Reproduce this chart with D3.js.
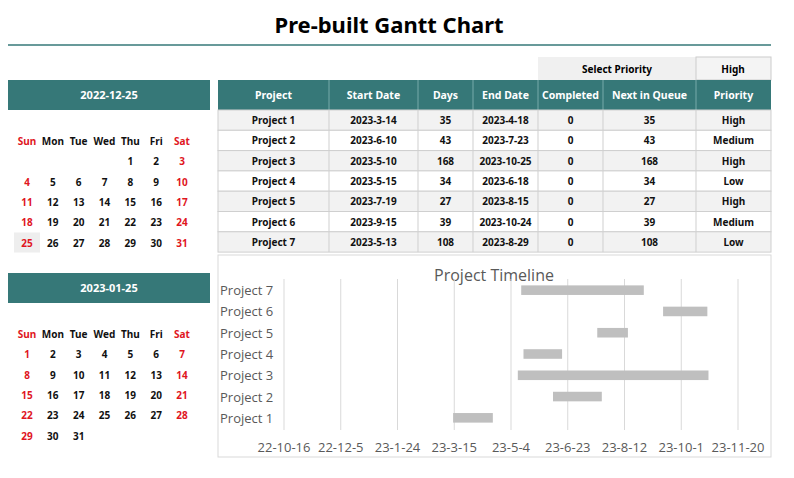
<!DOCTYPE html>
<html><head><meta charset="utf-8">
<script src="https://cdn.jsdelivr.net/npm/d3@7"></script>
<style>
body{margin:0;background:#fff;}
svg{font-family:"Noto Sans",sans-serif;}
</style></head><body>
<svg id="c" width="794" height="478"></svg>
<script>
const projects = ['Project 1','Project 2','Project 3','Project 4','Project 5','Project 6','Project 7'];
const startDates = ['2023-3-14','2023-6-10','2023-5-10','2023-5-15','2023-7-19','2023-9-15','2023-5-13'];
const days = [35,43,168,34,27,39,108];
const endDates = ['2023-4-18','2023-7-23','2023-10-25','2023-6-18','2023-8-15','2023-10-24','2023-8-29'];
const completed = [0,0,0,0,0,0,0];
const nextInQueue = [35,43,168,34,27,39,108];
const priorities = ['High','Medium','High','Low','High','Medium','Low'];
const headers = ['Project','Start Date','Days','End Date','Completed','Next in Queue','Priority'];
const colEdges = [218,329,418,473,538,603,696,771];
const weekdays = ['Sun','Mon','Tue','Wed','Thu','Fri','Sat'];
const tickLabels = ['22-10-16','22-12-5','23-1-24','23-3-15','23-5-4','23-6-23','23-8-12','23-10-1','23-11-20'];

const teal = '#367878';
const svg = d3.select('#c');
const parse = d3.timeParse('%Y-%m-%d');

svg.append('text').attr('x', 389).attr('y', 33).attr('text-anchor', 'middle')
  .attr('font-size', 22).attr('font-weight', 'bold').text('Pre-built Gantt Chart');
svg.append('line').attr('x1', 8).attr('x2', 771).attr('y1', 45).attr('y2', 45)
  .attr('stroke', teal).attr('stroke-width', 1.5);

// calendars
function calendar(y0, label, year, month, hi) {
  svg.append('rect').attr('x', 8).attr('y', y0).attr('width', 202).attr('height', 30).attr('fill', teal);
  svg.append('text').attr('x', 109).attr('y', y0 + 19).attr('text-anchor', 'middle')
    .attr('fill', '#fff').attr('font-size', 11).attr('font-weight', 'bold').text(label);
  const cx = d3.scalePoint().domain(d3.range(7)).range([27, 182]);
  const wy = y0 + 65;
  weekdays.forEach((w, i) => svg.append('text').attr('x', cx(i)).attr('y', wy).attr('text-anchor', 'middle')
    .attr('font-size', 10).attr('font-weight', 'bold').attr('fill', i === 0 || i === 6 ? '#e0161e' : '#111').text(w));
  const first = new Date(year, month, 1);
  const n = new Date(year, month + 1, 0).getDate();
  const off = first.getDay();
  for (let d = 1; d <= n; d += 1) {
    const idx = d - 1 + off, c = idx % 7, r = Math.floor(idx / 7);
    const y = wy + 20.3 + r * 20.3;
    if (d === hi) svg.append('rect').attr('x', cx(c) - 13).attr('y', y - 14).attr('width', 26).attr('height', 20).attr('fill', '#eeeeee');
    svg.append('text').attr('x', cx(c)).attr('y', y).attr('text-anchor', 'middle')
      .attr('font-size', 10).attr('font-weight', 'bold').attr('fill', c === 0 || c === 6 ? '#e0161e' : '#111').text(d);
  }
}
calendar(80, '2022-12-25', 2022, 11, 25);
calendar(273, '2023-01-25', 2023, 0, null);

// table
svg.append('rect').attr('x', 538).attr('y', 57).attr('width', 158).attr('height', 23).attr('fill', '#f0f0f0');
svg.append('text').attr('x', 617).attr('y', 73).attr('text-anchor', 'middle').attr('font-size', 10).attr('font-weight', 'bold').text('Select Priority');
svg.append('rect').attr('x', 696).attr('y', 57).attr('width', 75).attr('height', 23).attr('fill', '#f4f4f4').attr('stroke', '#ccc');
svg.append('text').attr('x', 733).attr('y', 73).attr('text-anchor', 'middle').attr('font-size', 10).attr('font-weight', 'bold').text('High');
svg.append('rect').attr('x', 218).attr('y', 80).attr('width', 553).attr('height', 30).attr('fill', teal);
headers.forEach((h, i) => {
  if (i > 0) svg.append('line').attr('x1', colEdges[i]).attr('x2', colEdges[i]).attr('y1', 80).attr('y2', 110).attr('stroke', '#7aa').attr('stroke-width', 1);
  svg.append('text').attr('x', (colEdges[i] + colEdges[i + 1]) / 2).attr('y', 99).attr('text-anchor', 'middle')
    .attr('fill', '#fff').attr('font-size', 10.5).attr('font-weight', 'bold').text(h);
});
const rowH = 20.3;
projects.forEach((p, r) => {
  const y = 110 + r * rowH;
  const vals = [p, startDates[r], days[r], endDates[r], completed[r], nextInQueue[r], priorities[r]];
  svg.append('rect').attr('x', 218).attr('y', y).attr('width', 553).attr('height', rowH)
    .attr('fill', r % 2 === 0 ? '#f2f2f2' : '#fff').attr('stroke', '#cfcfcf');
  vals.forEach((v, i) => {
    if (i > 0) svg.append('line').attr('x1', colEdges[i]).attr('x2', colEdges[i]).attr('y1', y).attr('y2', y + rowH).attr('stroke', '#cfcfcf');
    svg.append('text').attr('x', (colEdges[i] + colEdges[i + 1]) / 2).attr('y', y + 14).attr('text-anchor', 'middle')
      .attr('font-size', 10).attr('font-weight', 'bold').attr('fill', '#111').text(v);
  });
});

// gantt
svg.append('rect').attr('x', 218).attr('y', 255).attr('width', 553).attr('height', 202).attr('fill', '#fff').attr('stroke', '#d9d9d9');
svg.append('text').attr('x', 494).attr('y', 281).attr('text-anchor', 'middle').attr('font-size', 16)
  .attr('fill', '#595959').attr('font-family', 'Open Sans').text('Project Timeline');
const tickDates = tickLabels.map((t) => parse('20' + t));
const x = d3.scaleTime().domain([tickDates[0], tickDates[tickDates.length - 1]]).range([284, 738]);
const y = d3.scaleBand().domain(projects.slice().reverse()).range([279, 429]).paddingInner(0.55).paddingOuter(0.3);
const g = svg.append('g');
tickDates.forEach((d, i) => {
  g.append('line').attr('x1', x(d)).attr('x2', x(d)).attr('y1', 279).attr('y2', 430).attr('stroke', '#d9d9d9');
  g.append('text').attr('x', x(d)).attr('y', 452).attr('text-anchor', 'middle').attr('font-size', 13)
    .attr('fill', '#595959').attr('font-family', 'Open Sans').text(tickLabels[i]);
});
projects.forEach((p, i) => {
  const s = parse(startDates[i]), e = d3.timeDay.offset(s, days[i]);
  g.append('rect').attr('x', x(s)).attr('y', y(p)).attr('width', x(e) - x(s)).attr('height', y.bandwidth()).attr('fill', '#bfbfbf');
  g.append('text').attr('x', 220).attr('y', y(p) + y.bandwidth() / 2 + 5).attr('font-size', 13)
    .attr('fill', '#595959').attr('font-family', 'Open Sans').text(p);
});
</script></body></html>
